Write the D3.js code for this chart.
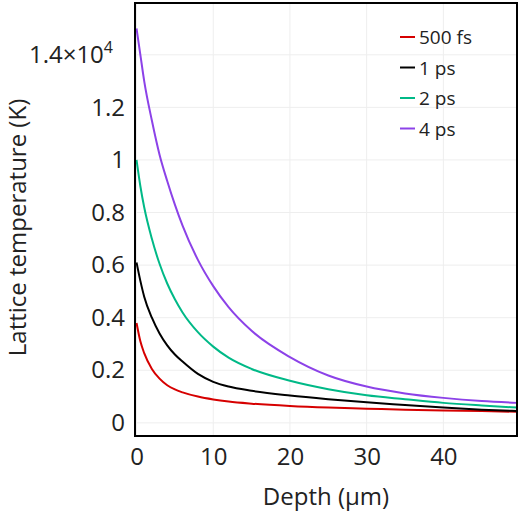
<!DOCTYPE html><html><head><meta charset="utf-8"><script src="https://cdn.jsdelivr.net/npm/d3@7"></script>
<style>body{margin:0;background:#fff}text{font-family:"Open Sans",sans-serif}</style></head><body><svg id="c" width="520" height="516"></svg>
<script>
const depth=[0,0.5,1,2,3,4,5,6,8,10,12,15,20,25,30,35,40,45,49.6];
const s500fs=[0.38,0.31,0.265,0.205,0.168,0.143,0.127,0.116,0.1,0.089,0.081,0.073,0.064,0.058,0.054,0.05,0.047,0.045,0.042];
const s1ps=[0.61,0.54,0.48,0.4,0.34,0.295,0.26,0.233,0.186,0.156,0.138,0.122,0.104,0.09,0.078,0.068,0.058,0.05,0.045];
const s2ps=[1.0,0.9,0.82,0.7,0.605,0.53,0.47,0.42,0.345,0.29,0.248,0.205,0.16,0.128,0.105,0.09,0.076,0.066,0.058];
const s4ps=[1.5,1.4,1.3,1.15,1.02,0.92,0.83,0.75,0.62,0.52,0.44,0.35,0.25,0.18,0.138,0.112,0.095,0.083,0.076];
const names=["500 fs","1 ps","2 ps","4 ps"];
const colors=["#d60000","#000000","#00b987","#8c42e8"];
const series=[s500fs,s1ps,s2ps,s4ps];
const xTicks=[0,10,20,30,40];
const yTicks=[0,0.2,0.4,0.6,0.8,1,1.2,1.4];
const yLabels=["0","0.2","0.4","0.6","0.8","1","1.2","1.4×10"];
const svg=d3.select("#c");
const L=135,R=517,T=3,B=436;
const x=d3.scaleLinear().domain([-0.2,49.6]).range([L,R]);
const y=d3.scaleLinear().domain([-0.05,1.597]).range([B,T]);
const g=svg.append("g");
g.selectAll(".gx").data(xTicks).join("line").attr("x1",d=>x(d)).attr("x2",d=>x(d)).attr("y1",T).attr("y2",B).attr("stroke","#eee");
g.selectAll(".gy").data(yTicks).join("line").attr("y1",d=>y(d)).attr("y2",d=>y(d)).attr("x1",L).attr("x2",R).attr("stroke","#eee");
const line=d3.line().x((d,i)=>x(depth[i])).y(d=>y(d)).curve(d3.curveMonotoneX);
series.forEach((s,k)=>g.append("path").attr("d",line(s)).attr("fill","none").attr("stroke",colors[k]).attr("stroke-width",2));
g.append("rect").attr("x",L).attr("y",T).attr("width",R-L).attr("height",B-T).attr("fill","none").attr("stroke","#000").attr("stroke-width",2);
const xa=svg.append("g").attr("transform",`translate(0,${B})`).call(d3.axisBottom(x).tickValues(xTicks).tickSize(0).tickPadding(12));
xa.select(".domain").remove();xa.selectAll("text").attr("font-size",24).attr("fill","#222").style("font-family","Open Sans");
const ya=svg.append("g").attr("transform",`translate(${L},0)`).call(d3.axisLeft(y).tickValues(yTicks).tickSize(0).tickPadding(10).tickFormat((d,i)=>yLabels[i]));
ya.select(".domain").remove();ya.selectAll("text").attr("font-size",24).attr("fill","#222").style("font-family","Open Sans");
ya.selectAll(".tick").filter(d=>d===1.4).select("text").attr("dx",-12).append("tspan").attr("dy",-10).attr("font-size",16).text("4");
svg.append("text").attr("x",(L+R)/2).attr("y",505).attr("text-anchor","middle").attr("font-size",24).attr("fill","#222").text("Depth (µm)");
svg.append("text").attr("transform",`translate(26,${(T+B)/2+8}) rotate(-90)`).attr("text-anchor","middle").attr("font-size",24).attr("fill","#222").text("Lattice temperature (K)");
const lg=svg.append("g");
names.forEach((n,k)=>{const yy=37+k*30.5;
lg.append("line").attr("x1",400).attr("x2",415).attr("y1",yy).attr("y2",yy).attr("stroke",colors[k]).attr("stroke-width",2);
lg.append("text").attr("x",419).attr("y",yy+7).attr("font-size",19).attr("fill","#222").text(n);});
</script></body></html>
